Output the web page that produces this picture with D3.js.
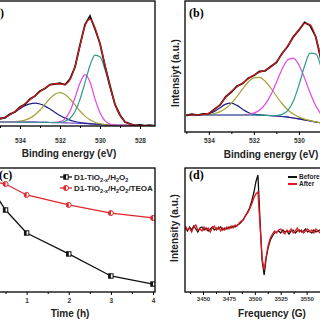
<!DOCTYPE html>
<html>
<head>
<meta charset="utf-8">
<script src="https://cdn.jsdelivr.net/npm/d3@7"></script>
<style>
body{margin:0;background:#fff;}
svg{display:block;font-family:"Liberation Sans",Arial,sans-serif;}
</style>
</head>
<body>
<svg id="chart" width="320" height="320"></svg>
<script>
// (a) O1s spectrum, binding energy grid and fitted components (above background)
var energyA = [535,534.75,534.5,534.25,534,533.75,533.5,533.25,533,532.75,532.5,532.25,532,531.75,531.5,531.25,531,530.75,530.5,530.25,530,529.75,529.5,529.25,529,528.75,528.5,528.25,528,527.75,527.5,527.25,527];
var measuredA = [7.5,8.2,12.0,14.0,19.0,21.6,27.0,30.0,35.1,37.5,41.5,42.0,42.8,41.2,47.0,59.0,81.0,101.5,110.0,97.0,82.5,60.0,40.2,21.5,11.0,4.0,2.2,0.5,1.0,0.3,0.9,0.2,0.6];
var backgroundA = [4.0,4.0,4.0,4.0,3.9,3.9,3.8,3.8,3.7,3.6,3.5,3.4,3.3,3.2,3.0,2.9,2.7,2.4,2.1,1.8,1.5,1.2,1.0,0.8,0.7,0.6,0.5,0.5,0.5,0.5,0.5,0.5,0.5];
var peak1A = [2.9,4.7,7.2,10.2,13.4,16.3,18.3,19,18.3,16.3,13.4,10.2,7.2,4.7,2.9,1.6,0.8,0.4,0.2,0.1,0,0,0,0,0,0,0,0,0,0,0,0,0];
var peak2A = [0,0,0.1,0.3,0.9,2.0,4.1,7.5,12.3,18.2,24.0,28.4,30,28.4,24.0,18.2,12.3,7.5,4.1,2.0,0.9,0.3,0.1,0,0,0,0,0,0,0,0,0,0];
var peak3A = [0,0,0,0,0,0,0,0,0,0,0,0.2,1.0,4.0,11.7,25.3,40.3,49,42,25.3,11.7,4.0,1.0,0.2,0,0,0,0,0,0,0,0,0];
var peak4A = [0,0,0,0,0,0,0,0,0,0,0,0.1,0.4,1.6,4.7,11.6,23.9,41.0,58.4,69.0,67.7,55.2,37.4,21.0,9.8,3.8,1.2,0.3,0,0,0,0,0];

// (b)
var energyB = [535,534.75,534.5,534.25,534,533.75,533.5,533.25,533,532.75,532.5,532.25,532,531.75,531.5,531.25,531,530.75,530.5,530.25,530,529.75,529.5,529.25,529];
var measuredB = [16.5,17.8,16.9,18.2,18.4,22.9,27.1,35.3,40.0,45.9,48.4,53.8,56.5,60.6,61.2,65.5,69.4,78.6,85.5,95.2,101.8,109.5,106.5,95.3,70.8];
var backgroundB = [17,17,17,17,17,17,17,17,17,17,17,17,17,16.9,16.7,16.4,16,15.5,14.8,14,13.1,12.1,11.0,10.0,9.0];
var peak1B = [0,0,0.1,0.3,1.3,3.6,7.3,10.9,11.9,9.6,5.7,2.5,0.8,0.2,0,0,0,0,0,0,0,0,0,0,0];
var peak2B = [0,0,0.1,0.2,0.6,1.5,3.4,6.7,11.7,18.5,26.1,33.0,37.2,37.7,34.1,27.6,20.0,13.0,7.5,3.9,1.8,0.8,0.3,0.1,0];
var peak3B = [0,0,0,0,0,0,0,0,0,0,0.2,0.6,2.0,4.9,10.9,20.6,33.6,47.3,57.2,59.8,53.9,42.0,28.1,16.3,8.1];
var peak4B = [0,0,0,0,0,0,0,0,0,0,0,0,0,0,0,0.1,0.5,2.1,6.6,16.7,33.6,53.6,67.8,68.1,54.3];
var energyTicks = [534,532,530,528];
var energyMinor = [535,533,531,529];

// (c) degradation vs time
var timeC = [0,0.5,1,2,3,4];
var h2o2C = [0.95,0.681,0.49,0.316,0.133,0.066];
var teoaC = [0.93,0.897,0.806,0.723,0.656,0.615];
var timeTicks = [1,2,3,4];
var timeMinor = [0.5,1.5,2.5,3.5];

// (d) EPR
var fieldD = [3433,3435,3437,3439,3441,3443,3445,3447,3449,3451,3453,3455,3457,3459,3461,3463,3465,3467,3469,3471,3473,3475,3477,3479,3481,3483,3485,3487,3489,3491,3493,3495,3497,3499,3501,3503,3505,3507,3509,3511,3513,3515,3517,3519,3521,3523,3525,3527,3529,3531,3533,3535,3537,3539,3541,3543,3545,3547,3549,3551,3553,3555,3557,3559,3561,3563,3565];
var beforeD = [2,-1,3,0,4,1,-2,2,3,0,2,-1,1,3,0,2,1,3,0,2,1,3,2,4,3,5,6,8,11,14,18,22,29,37,48,55,10,-30,-45,-28,-17,-10,-6,-3,-2,-1,-3,0,-2,-1,-4,-1,0,-3,-1,0,-2,-1,1,-2,-1,-3,0,-2,-1,0,-2];
var afterD = [4,0,2,-2,3,5,0,1,-1,3,0,2,-2,2,4,0,3,-1,2,0,3,1,4,2,5,4,7,9,10,15,17,21,26,32,36,38,5,-28,-40,-26,-15,-8,-4,-1,-3,0,1,-2,-4,0,-2,1,-3,-1,2,-2,0,-3,-1,1,-2,0,-3,1,-1,-3,0];
var fieldTicks = [3450,3475,3500,3525,3550];
var fieldMinor = [3437.5,3462.5,3487.5,3512.5,3537.5,3562.5];

var peakColors = ['#1e1e86', '#a2a236', '#e244e6', '#2e9a8c'];
var bgColor = '#7449d0';
var fitColor = '#d41c1c';

var svg = d3.select('#chart');
var defs = svg.append('defs');

function clipRect(id, x, y, w, h) {
	defs.append('clipPath').attr('id', id).append('rect')
		.attr('x', x).attr('y', y).attr('width', w).attr('height', h);
	return 'url(#' + id + ')';
}

function frame(x0, y0, x1, y1) {
	svg.append('rect')
		.attr('x', x0).attr('y', y0)
		.attr('width', x1 - x0).attr('height', y1 - y0)
		.attr('fill', 'none').attr('stroke', '#000').attr('stroke-width', 1.3);
}

function inView(scale, vals) {
	return vals.filter(function(v){ var p = scale(v); return p > -2 && p < 318; });
}

function bottomAxis(scale, y, major, minor, labelY, fontSize) {
	var m = svg.append('g').attr('transform', 'translate(0,' + y + ')')
		.call(d3.axisBottom(scale).tickValues(inView(scale, minor)).tickSize(2).tickFormat(''));
	m.select('.domain').remove();
	var a = svg.append('g').attr('transform', 'translate(0,' + y + ')')
		.call(d3.axisBottom(scale).tickValues(inView(scale, major)).tickSize(3).tickFormat(d3.format('d')));
	a.select('.domain').remove();
	a.selectAll('line').attr('stroke', '#000');
	a.selectAll('text')
		.attr('y', labelY - y).attr('dy', '0.35em')
		.style('font-size', fontSize + 'px').style('font-weight', 'bold')
		.style('font-family', '"Liberation Sans",Arial,sans-serif')
		.attr('fill', '#333');
}

function title(x, y, txt, rotate) {
	var t = svg.append('text')
		.attr('text-anchor', 'middle').attr('dy', '0.35em')
		.style('font-size', '10px').style('font-weight', 'bold')
		.attr('fill', '#222').text(txt);
	if (rotate) t.attr('transform', 'translate(' + x + ',' + y + ') rotate(-90)');
	else t.attr('x', x).attr('y', y);
}

function panelLetter(x, y, txt, anchor) {
	svg.append('text').attr('x', x).attr('y', y)
		.attr('text-anchor', anchor || 'start')
		.style('font-family', '"Liberation Serif","Times New Roman",serif')
		.style('font-size', '12px').style('font-weight', 'bold')
		.text(txt);
}

function drawXps(p) {
	var plot = svg.append('g')
		.attr('clip-path', clipRect(p.id, p.x0, p.y0, p.x1 - p.x0, p.y1 - p.y0));
	var smooth = d3.line()
		.x(function(d, i){ return p.x(p.energy[i]); })
		.y(function(d){ return p.y(d); })
		.curve(d3.curveMonotoneX);
	var raw = d3.line()
		.x(function(d, i){ return p.x(p.energy[i]); })
		.y(function(d){ return p.y(d); });

	plot.append('path').datum(p.bg).attr('d', smooth)
		.attr('fill', 'none').attr('stroke', bgColor).attr('stroke-width', 1.2);

	p.peaks.forEach(function(pk, k){
		var vals = pk.map(function(v, i){ return v + p.bg[i]; });
		plot.append('path').datum(vals).attr('d', smooth)
			.attr('fill', 'none').attr('stroke', peakColors[k]).attr('stroke-width', 1.2);
	});

	plot.append('path').datum(p.measured).attr('d', raw)
		.attr('fill', 'none').attr('stroke', '#111').attr('stroke-width', 1.8);

	var fit = p.bg.map(function(b, i){
		return b + d3.sum(p.peaks, function(pk){ return pk[i]; });
	});
	plot.append('path').datum(fit).attr('d', smooth)
		.attr('fill', 'none').attr('stroke', fitColor).attr('stroke-width', 1.2);

	frame(p.x0, p.y0, p.x1, p.y1);
}

// panel (a)
var xA = d3.scaleLinear().domain([536, 527.25]).range([-20, 155]);
var yA = d3.scaleLinear().domain([0, 125]).range([126, 1]);
drawXps({id: 'clipA', x: xA, y: yA, x0: -20, y0: 1, x1: 155, y1: 126,
	energy: energyA, measured: measuredA, bg: backgroundA,
	peaks: [peak1A, peak2A, peak3A, peak4A]});
bottomAxis(xA, 126, energyTicks, energyMinor, 141, 6.5);
title(69, 153, 'Binding energy (eV)');
panelLetter(4, 17, '(a)', 'end');

// panel (b)
var xB = d3.scaleLinear().domain([535.06, 529]).range([185, 321.4]);
var yB = d3.scaleLinear().domain([0, 131]).range([132, 1]);
drawXps({id: 'clipB', x: xB, y: yB, x0: 185, y0: 1, x1: 330, y1: 132,
	energy: energyB, measured: measuredB, bg: backgroundB,
	peaks: [peak1B, peak2B, peak3B, peak4B]});
bottomAxis(xB, 132, energyTicks, energyMinor, 141, 6.5);
title(271, 154, 'Binding energy (eV)');
title(175, 73, 'Intensiyt (a.u.)', true);
panelLetter(189, 17, '(b)');

// panel (c)
var xC = d3.scaleLinear().domain([0, 4]).range([-15.5, 153]);
var yC = d3.scaleLinear().domain([0, 1.03]).range([292, 168]);
var plotC = svg.append('g').attr('clip-path', clipRect('clipC', -20, 168, 175, 124));
var lineC = d3.line()
	.x(function(d, i){ return xC(timeC[i]); })
	.y(function(d){ return yC(d); });

function squareMark(g, cx, cy) {
	g.append('rect').attr('x', cx - 2.2).attr('y', cy - 2.2).attr('width', 4.4).attr('height', 4.4)
		.attr('fill', '#fff').attr('stroke', '#111').attr('stroke-width', 1);
	g.append('rect').attr('x', cx - 2.2).attr('y', cy - 2.2).attr('width', 2.2).attr('height', 4.4)
		.attr('fill', '#111');
}
function circleMark(g, cx, cy) {
	var r = 2.5;
	g.append('circle').attr('cx', cx).attr('cy', cy).attr('r', r)
		.attr('fill', '#fff').attr('stroke', '#e0262a').attr('stroke-width', 1);
	g.append('path')
		.attr('d', 'M' + cx + ',' + (cy - r) + 'A' + r + ',' + r + ' 0 0 0 ' + cx + ',' + (cy + r) + 'Z')
		.attr('fill', '#e0262a');
}

plotC.append('path').datum(h2o2C).attr('d', lineC)
	.attr('fill', 'none').attr('stroke', '#111').attr('stroke-width', 1.3);
plotC.append('path').datum(teoaC).attr('d', lineC)
	.attr('fill', 'none').attr('stroke', '#e0262a').attr('stroke-width', 1.3);
h2o2C.forEach(function(v, i){ squareMark(plotC, xC(timeC[i]), yC(v)); });
teoaC.forEach(function(v, i){ circleMark(plotC, xC(timeC[i]), yC(v)); });
frame(-20, 168, 155, 292);
bottomAxis(xC, 292, timeTicks, timeMinor, 301, 6.5);
title(70, 313, 'Time (h)');
panelLetter(-1, 179, '(c)');

function formula(x, y, parts) {
	var t = svg.append('text').attr('x', x).attr('y', y)
		.style('font-size', '8px').style('font-weight', 'bold').attr('fill', '#222');
	var low = false;
	parts.forEach(function(p){
		var s = t.append('tspan').text(p[0]);
		if (p[1] && !low) { s.attr('dy', 2).style('font-size', '5.5px'); low = true; }
		else if (p[1]) { s.style('font-size', '5.5px'); }
		else if (low) { s.attr('dy', -2); low = false; }
	});
}
var legC = svg.append('g');
legC.append('line').attr('x1', 60).attr('x2', 72).attr('y1', 177).attr('y2', 177)
	.attr('stroke', '#111').attr('stroke-width', 1.3);
squareMark(legC, 66, 177);
formula(74, 180, [['D1-TiO', 0], ['2-x', 1], ['/H', 0], ['2', 1], ['O', 0], ['2', 1]]);
legC.append('line').attr('x1', 60).attr('x2', 72).attr('y1', 188).attr('y2', 188)
	.attr('stroke', '#e0262a').attr('stroke-width', 1.3);
circleMark(legC, 66, 188);
formula(74, 191, [['D1-TiO', 0], ['2-x', 1], ['/H', 0], ['2', 1], ['O', 0], ['2', 1], ['/TEOA', 0]]);

// panel (d)
var xD = d3.scaleLinear().domain([3432.6, 3563]).range([185, 320.1]);
var yD = d3.scaleLinear().domain([-62, 62]).range([292, 168]);
var plotD = svg.append('g').attr('clip-path', clipRect('clipD', 185, 168, 140, 124));
var lineD = d3.line()
	.x(function(d, i){ return xD(fieldD[i]); })
	.y(function(d){ return yD(d); });
plotD.append('path').datum(beforeD).attr('d', lineD)
	.attr('fill', 'none').attr('stroke', '#111').attr('stroke-width', 1.3);
plotD.append('path').datum(afterD).attr('d', lineD)
	.attr('fill', 'none').attr('stroke', '#e8161c').attr('stroke-width', 1.3);
frame(185, 168, 330, 292);
bottomAxis(xD, 292, fieldTicks, fieldMinor, 299, 6);
title(272, 313, 'Frequency (G)');
title(174, 228, 'Intensity (a.u.)', true);
panelLetter(189, 179, '(d)');

var legD = svg.append('g');
[['Before', '#111', 177], ['After', '#e8161c', 184]].forEach(function(r){
	legD.append('line').attr('x1', 288).attr('x2', 297).attr('y1', r[2]).attr('y2', r[2])
		.attr('stroke', r[1]).attr('stroke-width', 2);
	legD.append('text').attr('x', 299).attr('y', r[2]).attr('dy', '0.35em')
		.style('font-size', '6.5px').style('font-weight', 'bold').attr('fill', '#222').text(r[0]);
});
</script>
</body>
</html>
